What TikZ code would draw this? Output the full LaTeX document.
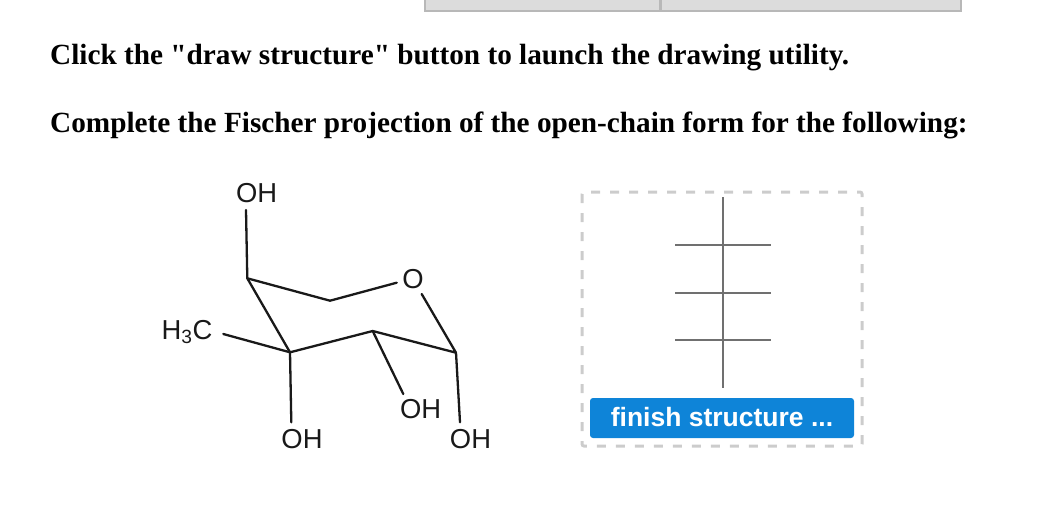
\documentclass[tikz,border=0pt]{standalone}
\usepackage{fontspec}
\setmainfont{Liberation Serif}
\setsansfont{Liberation Sans}
\newfontfamily\plainserif{Liberation Serif}
\definecolor{tabfill}{HTML}{DCDCDC}
\definecolor{tabedge}{HTML}{B8B8B8}
\definecolor{dashgray}{HTML}{CCCCCC}
\definecolor{btnblue}{HTML}{0E84D8}
\definecolor{fischer}{HTML}{707070}
\tikzset{
  tabbox/.style={draw=tabedge,fill=tabfill,line width=2pt},
  headline/.style={anchor=base west,inner sep=0pt,font=\plainserif\bfseries\fontsize{29.25}{32}\selectfont},
  atom/.style={inner sep=0pt,font=\sffamily\fontsize{27.4}{30}\selectfont,text=black!90},
  bond/.style={draw=black!90,line width=2.3pt,line cap=round,line join=round},
  fischerline/.style={draw=fischer,line width=1.6pt},
  dashbox/.style={draw=dashgray,line width=3pt,dash pattern=on 9pt off 10pt,rounded corners=2pt},
  btn/.style={fill=btnblue,rounded corners=3pt}
}
\begin{document}
\begin{tikzpicture}[x=1pt,y=-1pt]
\useasboundingbox (0,0) rectangle (1062,528);
% top tabs
\draw[tabbox] (425,-5) rectangle (659.5,11);
\draw[tabbox] (661,-5) rectangle (961,11);
% headings
\node[headline] (h1) at (50,64) {Click the "draw structure" button to launch the drawing utility.};
\node[headline] (h2) at (50,132) {Complete the Fischer projection of the open-chain form for the following:};
% labels
\node[atom] (ohtop) at (256.7,193.5) {OH};
\node[atom] (ch3) at (187,332) {H\textsubscript{3}C};
\node[atom] (oring) at (413,279.5) {O};
\node[atom] (ohleft) at (302,439.5) {OH};
\node[atom] (ohmid) at (420.7,409.5) {OH};
\node[atom] (ohright) at (470.5,439.5) {OH};
% ring atoms
\coordinate (c1) at (247.3,278.3);
\coordinate (c2) at (330,300.7);
\coordinate (c3) at (456,352.7);
\coordinate (c4) at (372.7,331);
\coordinate (c5) at (290,352.3);
% bond ends
\coordinate (eohtop) at (246,210);
\coordinate (ech3) at (223.3,334);
\coordinate (eoa) at (396.7,282.7);
\coordinate (eob) at (421.7,294);
\coordinate (eohleft) at (291.3,422.3);
\coordinate (eohmid) at (403.3,394);
\coordinate (eohright) at (460,422.3);
% bonds
\draw[bond] (eohtop) -- (c1);
\draw[bond] (c1) -- (c2) -- (eoa);
\draw[bond] (eob) -- (c3) -- (c4) -- (c5) -- (c1);
\draw[bond] (ech3) -- (c5);
\draw[bond] (c5) -- (eohleft);
\draw[bond] (c4) -- (eohmid);
\draw[bond] (c3) -- (eohright);
% dashed box
\draw[dashbox] (582,192) rectangle (862,446);
% Fischer
\coordinate (ft) at (723,197);
\coordinate (fb) at (723,388);
\coordinate (l1) at (675,245); \coordinate (r1) at (771,245);
\coordinate (l2) at (675,293); \coordinate (r2) at (771,293);
\coordinate (l3) at (675,340); \coordinate (r3) at (771,340);
\draw[fischerline] (ft) -- (fb);
\draw[fischerline] (l1) -- (r1);
\draw[fischerline] (l2) -- (r2);
\draw[fischerline] (l3) -- (r3);
% button
\path[btn] (590,398) rectangle (854,438);
\node[inner sep=0pt,text=white,font=\sffamily\bfseries\fontsize{26.5}{30}\selectfont] (finish) at (722,417) {finish structure ...};
\end{tikzpicture}
\end{document}
